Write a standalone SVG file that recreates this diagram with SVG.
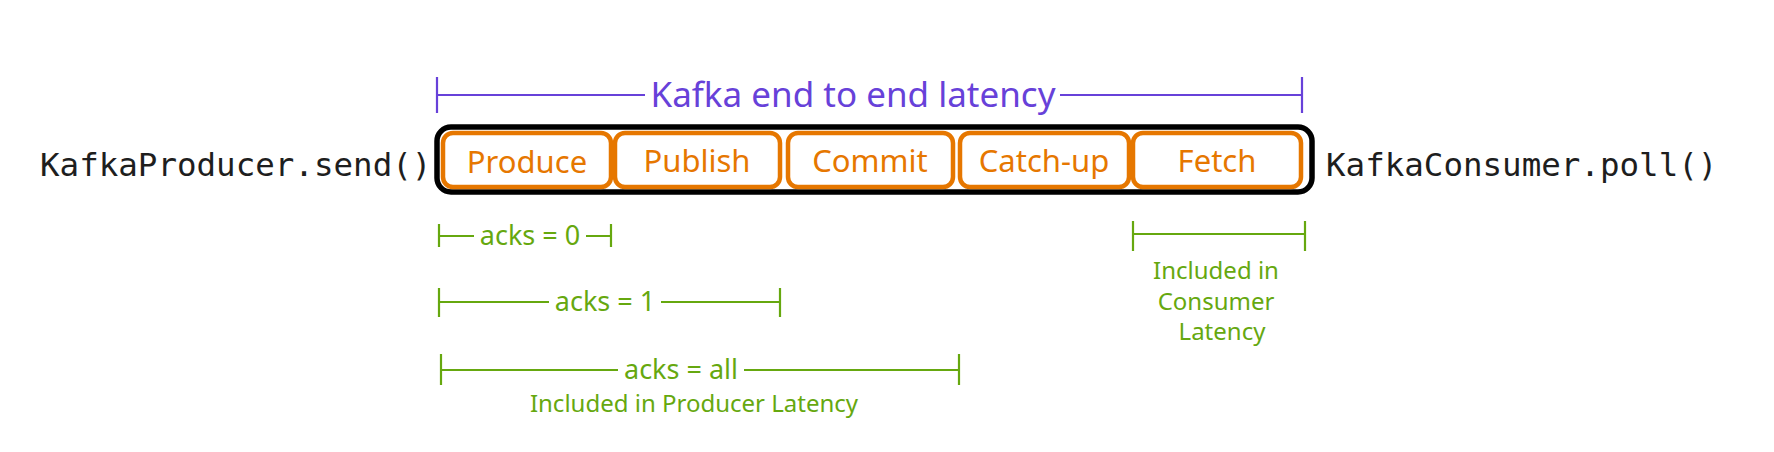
<svg xmlns="http://www.w3.org/2000/svg" width="1774" height="452" viewBox="0 0 1774 452">
<style>
.mono{font-family:"DejaVu Sans Mono","Liberation Mono",monospace;font-size:32.5px;fill:#1e1e1e}
.orange{fill:none;stroke:#e67700;stroke-width:4.5}
.otext{font-family:"Noto Sans","Liberation Sans",sans-serif;font-size:31px;fill:#e67700;text-anchor:middle}
.purple{stroke:#6741d9;stroke-width:2.2;fill:none}
.ptext{font-family:"Noto Sans","Liberation Sans",sans-serif;font-size:35px;fill:#6741d9;text-anchor:middle}
.green{stroke:#66a80f;stroke-width:2.2;fill:none}
.gtext{font-family:"Noto Sans","Liberation Sans",sans-serif;font-size:27px;fill:#66a80f;text-anchor:middle}
.gsmall{font-family:"Noto Sans","Liberation Sans",sans-serif;font-size:24px;fill:#66a80f;text-anchor:middle}
</style>
<rect width="1774" height="452" fill="#ffffff"/>
<g id="connectors">
  <g id="e2e">
    <path class="purple" d="M437 77V113M437 95H645M1060 95H1302M1302 77V113"/>
    <text class="ptext" x="853" y="107">Kafka end to end latency</text>
  </g>
  <g id="acks0">
    <path class="green" d="M439 224V247M439 236H474M586 236H611M611 224V247"/>
    <text class="gtext" x="530" y="245">acks = 0</text>
  </g>
  <g id="acks1">
    <path class="green" d="M439 288V317M439 302H549M661 302H780M780 288V317"/>
    <text class="gtext" x="605" y="311">acks = 1</text>
  </g>
  <g id="acksall">
    <path class="green" d="M441 354V385M441 370H618M744 370H959M959 354V385"/>
    <text class="gtext" x="681" y="379">acks = all</text>
    <text class="gsmall" x="694" y="412">Included in Producer Latency</text>
  </g>
  <g id="consumer-latency">
    <path class="green" d="M1133 221V251M1133 234H1305M1305 221V251"/>
    <text class="gsmall" x="1216" y="279">Included in</text>
    <text class="gsmall" x="1216" y="310">Consumer</text>
    <text class="gsmall" x="1222" y="340">Latency</text>
  </g>
</g>
<g id="producer-send"><text class="mono" x="40" y="176">KafkaProducer.send()</text></g>
<g id="consumer-poll"><text class="mono" x="1326" y="176">KafkaConsumer.poll()</text></g>
<g id="kafka-box"><rect x="437" y="127" width="875" height="65" rx="14" fill="none" stroke="#000" stroke-width="5.5"/></g>
<g id="produce"><rect class="orange" x="443" y="133" width="168" height="54" rx="10"/><text class="otext" x="527" y="173">Produce</text></g>
<g id="publish"><rect class="orange" x="615" y="133" width="165" height="54" rx="10"/><text class="otext" x="697" y="172">Publish</text></g>
<g id="commit"><rect class="orange" x="788" y="133" width="165" height="54" rx="10"/><text class="otext" x="870" y="172">Commit</text></g>
<g id="catchup"><rect class="orange" x="960" y="133" width="169" height="54" rx="10"/><text class="otext" x="1044" y="172">Catch-up</text></g>
<g id="fetch"><rect class="orange" x="1133" y="133" width="168" height="54" rx="10"/><text class="otext" x="1217" y="172">Fetch</text></g>
</svg>
